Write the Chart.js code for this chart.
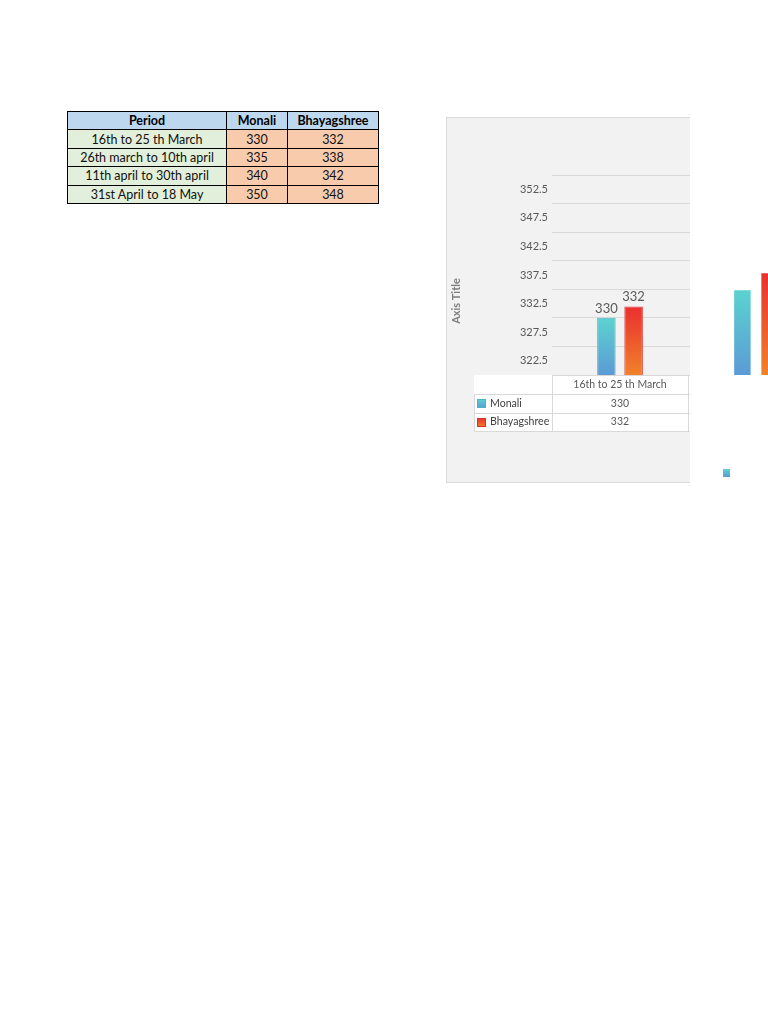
<!DOCTYPE html>
<html>
<head>
<meta charset="utf-8">
<script src="https://cdn.jsdelivr.net/npm/chart.js@4.4.1/dist/chart.umd.min.js"></script>
<style>
  body { margin: 0; width: 768px; height: 1024px; overflow: hidden; background: #fff; position: relative; }
  #sheet { position: absolute; left: 67px; top: 111px; border-collapse: collapse; font-family: Lato, "Liberation Sans", sans-serif; font-size: 12.5px; color: #111; }
  #sheet td, #sheet th { border: 1px solid #000; height: 17.4px; padding: 0; text-align: center; line-height: 17px; }
  #sheet th { background: #bdd7ee; font-weight: bold; color: #000; }
  #sheet td.p { background: #e2efda; }
  #sheet td.v { background: #f8cbad; }
  #clipA { position: absolute; left: 446px; top: 117px; width: 244px; height: 366px; overflow: hidden; }
  #clipB { position: absolute; left: 700px; top: 117px; width: 68px; height: 366px; overflow: hidden; }
  #clipA canvas, #clipB canvas { position: absolute; top: 0; }
  #clipA canvas { left: 0; }
  #clipB canvas { left: -254px; }
</style>
</head>
<body>
<table id="sheet">
  <thead><tr><th style="width:158px">Period</th><th style="width:60px">Monali</th><th style="width:90px">Bhayagshree</th></tr></thead>
  <tbody id="sheetBody"></tbody>
</table>
<div id="clipA"><canvas id="chartA" width="680" height="366"></canvas></div>
<div id="clipB"><canvas id="chartB" width="680" height="366"></canvas></div>
<script>
const periods = ['16th to 25 th March', '26th march to 10th april', '11th april to 30th april', '31st April to 18 May'];
const monali = [330, 335, 340, 350];
const bhayagshree = [332, 338, 342, 348];
const tickLabels = ['322.5', '327.5', '332.5', '337.5', '342.5', '347.5', '352.5'];
const seriesNames = ['Monali', 'Bhayagshree'];

// spreadsheet range
const body = document.getElementById('sheetBody');
periods.forEach((p, i) => {
    const tr = document.createElement('tr');
    tr.innerHTML = '<td class="p">' + p + '</td><td class="v">' + monali[i] + '</td><td class="v">' + bhayagshree[i] + '</td>';
    body.appendChild(tr);
});

const colors = [['#5bd3cf', '#5b9bd5', '#45b8c4'], ['#ea2f2f', '#f0822a', '#d9302c']];
const font = 'Lato, "Liberation Sans", sans-serif';

function gradientFill(idx) {
    return (c) => {
        const chart = c.chart;
        if (!chart.chartArea || c.raw === undefined) return colors[idx][0];
        const y = chart.scales.y;
        const top = y.getPixelForValue(c.raw);
        const g = chart.ctx.createLinearGradient(0, top, 0, chart.chartArea.bottom);
        g.addColorStop(0, colors[idx][0]);
        g.addColorStop(1, colors[idx][1]);
        return g;
    };
}

function keyBox(ctx, x, y, w, h, idx, border) {
    const g = ctx.createLinearGradient(0, y, 0, y + h);
    g.addColorStop(0, colors[idx][0]);
    g.addColorStop(1, colors[idx][1]);
    ctx.fillStyle = g;
    ctx.fillRect(x, y, w, h);
    if (border) {
        ctx.strokeStyle = colors[idx][2];
        ctx.lineWidth = 1;
        ctx.strokeRect(x + 0.5, y + 0.5, w - 1, h - 1);
    }
}

const panelPlugin = {
    id: 'panel',
    beforeDraw: (chart) => {
        const ctx = chart.ctx;
        ctx.save();
        ctx.fillStyle = '#f2f2f2';
        ctx.fillRect(0, 0, chart.width, chart.height);
        ctx.strokeStyle = '#d9d9d9';
        ctx.strokeRect(0.5, 0.5, chart.width - 1, chart.height - 1);
        // axis title
        ctx.translate(10, 184);
        ctx.rotate(-Math.PI / 2);
        ctx.fillStyle = '#7f7f7f';
        ctx.font = 'bold 11px ' + font;
        ctx.textAlign = 'center';
        ctx.textBaseline = 'middle';
        ctx.fillText('Axis Title', 0, 0);
        ctx.restore();
    },
    afterDatasetsDraw: (chart) => {
        const ctx = chart.ctx;
        ctx.save();
        ctx.fillStyle = '#595959';
        ctx.font = '13px ' + font;
        ctx.textAlign = 'center';
        ctx.textBaseline = 'bottom';
        chart.data.datasets.forEach((ds, d) => {
            chart.getDatasetMeta(d).data.forEach((bar, i) => {
                ctx.fillText(ds.data[i], bar.x, bar.y - 3);
            });
        });
        ctx.restore();
    },
    afterDraw: (chart) => {
        // data table under the plot
        const ctx = chart.ctx;
        const x = chart.scales.x;
        const top = chart.chartArea.bottom;
        const keyLeft = 28;
        const rows = [top, top + 19, top + 37.5, top + 56];
        const catW = (x.right - x.left) / periods.length;
        ctx.save();
        ctx.fillStyle = '#ffffff';
        ctx.fillRect(keyLeft, top, x.right - keyLeft, rows[3] - top);
        ctx.strokeStyle = '#d9d9d9';
        ctx.lineWidth = 1;
        ctx.beginPath();
        ctx.moveTo(x.left, top + 0.5); ctx.lineTo(x.right, top + 0.5);
        for (let r = 1; r < 4; r++) {
            ctx.moveTo(keyLeft, Math.round(rows[r]) + 0.5); ctx.lineTo(x.right, Math.round(rows[r]) + 0.5);
        }
        ctx.moveTo(keyLeft + 0.5, rows[1]); ctx.lineTo(keyLeft + 0.5, rows[3]);
        for (let i = 0; i <= periods.length; i++) {
            const vx = Math.round(x.left + i * catW) + 0.5;
            ctx.moveTo(vx, top); ctx.lineTo(vx, rows[3]);
        }
        ctx.stroke();
        ctx.fillStyle = '#595959';
        ctx.font = '10.5px ' + font;
        ctx.textAlign = 'center';
        ctx.textBaseline = 'middle';
        periods.forEach((p, i) => {
            const cx = x.getPixelForValue(i);
            ctx.fillText(p, cx, (rows[0] + rows[1]) / 2);
            ctx.fillText(monali[i], cx, (rows[1] + rows[2]) / 2);
            ctx.fillText(bhayagshree[i], cx, (rows[2] + rows[3]) / 2);
        });
        ctx.textAlign = 'left';
        ctx.font = '10.6px ' + font;
        seriesNames.forEach((n, s) => {
            const cy = (rows[s + 1] + rows[s + 2]) / 2;
            keyBox(ctx, keyLeft + 3, Math.round(cy) - 4, 9, 9, s, true);
            ctx.fillStyle = '#404040';
            ctx.fillText(n, keyLeft + 16, cy);
        });
        ctx.restore();
    }
};

const keyPlugin = {
    id: 'stray',
    afterDraw: (chart) => {
        keyBox(chart.ctx, 277, 352, 7, 8, 0, false);
    }
};

function makeChart(id, full) {
    return new Chart(document.getElementById(id), {
        type: 'bar',
        data: {
            labels: periods,
            datasets: [
                { label: seriesNames[0], data: monali, backgroundColor: gradientFill(0), borderColor: full ? colors[0][2] : 'rgba(255,255,255,0.6)', borderWidth: 1 },
                { label: seriesNames[1], data: bhayagshree, backgroundColor: gradientFill(1), borderColor: full ? colors[1][2] : 'rgba(255,255,255,0.6)', borderWidth: 1 }
            ]
        },
        options: {
            responsive: false,
            animation: false,
            devicePixelRatio: 1,
            layout: { padding: { top: 58, right: 30, left: 0, bottom: 0 } },
            plugins: { legend: { display: false }, tooltip: { enabled: false } },
            datasets: { bar: { categoryPercentage: 0.4, barPercentage: 0.68 } },
            scales: {
                x: {
                    grid: { display: false },
                    border: { display: false },
                    ticks: { display: false },
                    afterFit: (s) => { s.height = 108; }
                },
                y: {
                    min: 320,
                    max: 355,
                    border: { display: false },
                    grid: {
                        drawTicks: false,
                        color: (c) => (full && c.tick.value % 5 === 0) ? '#d9d9d9' : 'rgba(0,0,0,0)'
                    },
                    ticks: {
                        stepSize: 2.5,
                        autoSkip: false,
                        padding: 4,
                        color: full ? '#595959' : 'rgba(0,0,0,0)',
                        font: { family: font, size: 11 },
                        callback: (v) => tickLabels.includes(v.toFixed(1)) ? v.toFixed(1) : ''
                    },
                    afterFit: (s) => { s.width = 106; }
                }
            }
        },
        plugins: full ? [panelPlugin] : [keyPlugin]
    });
}

makeChart('chartA', true);
makeChart('chartB', false);
</script>
</body>
</html>
